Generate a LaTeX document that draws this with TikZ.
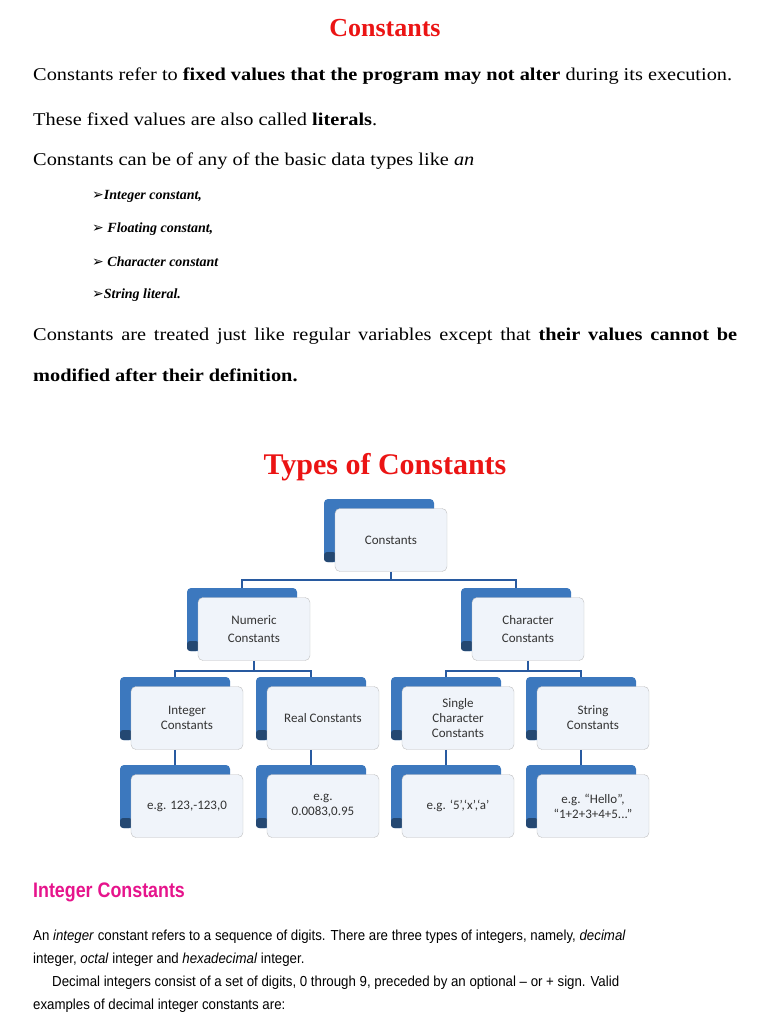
\documentclass[tikz,border=0pt]{standalone}
\usepackage{fontspec}
\usetikzlibrary{backgrounds}
\setmainfont{Liberation Serif}
\newfontfamily\djfont{DejaVu Sans}
\newfontfamily\arlfont{Liberation Sans}
\newfontfamily\carlfont{Carlito}
\definecolor{myred}{RGB}{235,20,20}
\definecolor{mag}{RGB}{230,20,140}
\definecolor{bblue}{RGB}{60,120,190}
\definecolor{lblue}{RGB}{40,90,160}
\definecolor{boxfill}{RGB}{240,244,250}
\newcommand\cbox[4]{%
  \fill[bblue,rounded corners=4pt] ({#2-67},{#3-41}) rectangle ({#2+43},{#3+22});
  \fill[bblue!60!black,rounded corners=3pt] ({#2-67},{#3+12}) rectangle ({#2-55},{#3+22});
  \node[draw=black!25,fill=boxfill,rounded corners=5pt,minimum width=112pt,minimum height=63pt,lab] (#1) at (#2,#3) {#4};}
\begin{document}
\begin{tikzpicture}[x=1pt,y=-1pt,
  body/.style={anchor=west,inner sep=0pt,font=\fontsize{18}{21}\selectfont,xscale=1.13},
  bul/.style={anchor=west,inner sep=0pt,font=\fontsize{14}{16}\selectfont\bfseries\itshape},
  lab/.style={font=\carlfont\fontsize{13}{15}\selectfont,align=center,text=black!80},
  conn/.style={draw=lblue,line width=2pt},
  para/.style={anchor=west,inner sep=0pt,font=\arlfont\fontsize{14.5}{17}\selectfont,xscale=0.915},
]
\useasboundingbox (0,0) rectangle (768,1024);
\node[text=myred,font=\fontsize{26}{28}\selectfont\bfseries] (t1) at (385,28) {Constants};
\node[body] (l1) at (33,76) {Constants refer to \textbf{fixed values that the program may not alter} during its execution.};
\node[body] (l2) at (33,119) {These fixed values are also called \textbf{literals}.};
\node[body] (l3) at (33,161) {Constants can be of any of the basic data types like \textit{an}};
\node[bul] (b1) at (92,196) {{\djfont\mdseries\upshape ➢}Integer constant,};
\node[bul] (b2) at (92,229) {{\djfont\mdseries\upshape ➢} Floating constant,};
\node[bul] (b3) at (92,262) {{\djfont\mdseries\upshape ➢} Character constant};
\node[bul] (b4) at (92,295) {{\djfont\mdseries\upshape ➢}String literal.};
\node[body] (l4) at (33,336) {\makebox[623pt][s]{Constants are treated just like regular variables except that \textbf{their values cannot be}}};
\node[body] (l5) at (33,375) {\textbf{modified after their definition.}};
\node[text=myred,font=\fontsize{30}{32}\selectfont\bfseries] (t2) at (385,467) {Types of Constants};
\cbox{c}{391}{540}{Constants}
\cbox{n}{254}{629}{Numeric\\[3pt]Constants}
\cbox{ch}{528}{629}{Character\\[3pt]Constants}
\cbox{i}{187}{718}{Integer\\Constants}
\cbox{r}{323}{718}{Real Constants}
\cbox{s}{458}{718}{Single\\Character\\Constants}
\cbox{st}{593}{718}{String\\Constants}
\cbox{e1}{187}{806}{e.g. 123,-123,0}
\cbox{e2}{323}{806}{e.g.\\0.0083,0.95}
\cbox{e3}{458}{806}{e.g. ‘5’,‘x’,‘a’}
\cbox{e4}{593}{806}{e.g. “Hello”,\\“1+2+3+4+5...”}
\begin{scope}[on background layer]
\draw[conn] (c.south) -- ++(0,8) -| ([xshift=-12pt,yshift=-10pt]n.north);
\draw[conn] (c.south) ++(0,8) -| ([xshift=-12pt,yshift=-10pt]ch.north);
\draw[conn] (n.south) -- ++(0,10) -| ([xshift=-12pt,yshift=-10pt]i.north);
\draw[conn] (n.south) ++(0,10) -| ([xshift=-12pt,yshift=-10pt]r.north);
\draw[conn] (ch.south) -- ++(0,10) -| ([xshift=-12pt,yshift=-10pt]s.north);
\draw[conn] (ch.south) ++(0,10) -| ([xshift=-12pt,yshift=-10pt]st.north);
\draw[conn] ([xshift=-12pt]i.south) -- ([xshift=-12pt,yshift=-10pt]e1.north);
\draw[conn] ([xshift=-12pt]r.south) -- ([xshift=-12pt,yshift=-10pt]e2.north);
\draw[conn] ([xshift=-12pt]s.south) -- ([xshift=-12pt,yshift=-10pt]e3.north);
\draw[conn] ([xshift=-12pt]st.south) -- ([xshift=-12pt,yshift=-10pt]e4.north);
\end{scope}
\node[anchor=west,inner sep=0pt,text=mag,font=\arlfont\bfseries\fontsize{21}{24}\selectfont,xscale=0.85] (h3) at (33,892) {Integer Constants};
\node[para] (p1) at (33,937) {An \textit{integer} constant refers to a sequence of digits. There are three types of integers, namely, \textit{decimal}};
\node[para] (p2) at (33,960) {integer, \textit{octal} integer and \textit{hexadecimal} integer.};
\node[para] (p3) at (52,983) {Decimal integers consist of a set of digits, 0 through 9, preceded by an optional – or + sign. Valid};
\node[para] (p4) at (33,1006) {examples of decimal integer constants are:};
\end{tikzpicture}
\end{document}
